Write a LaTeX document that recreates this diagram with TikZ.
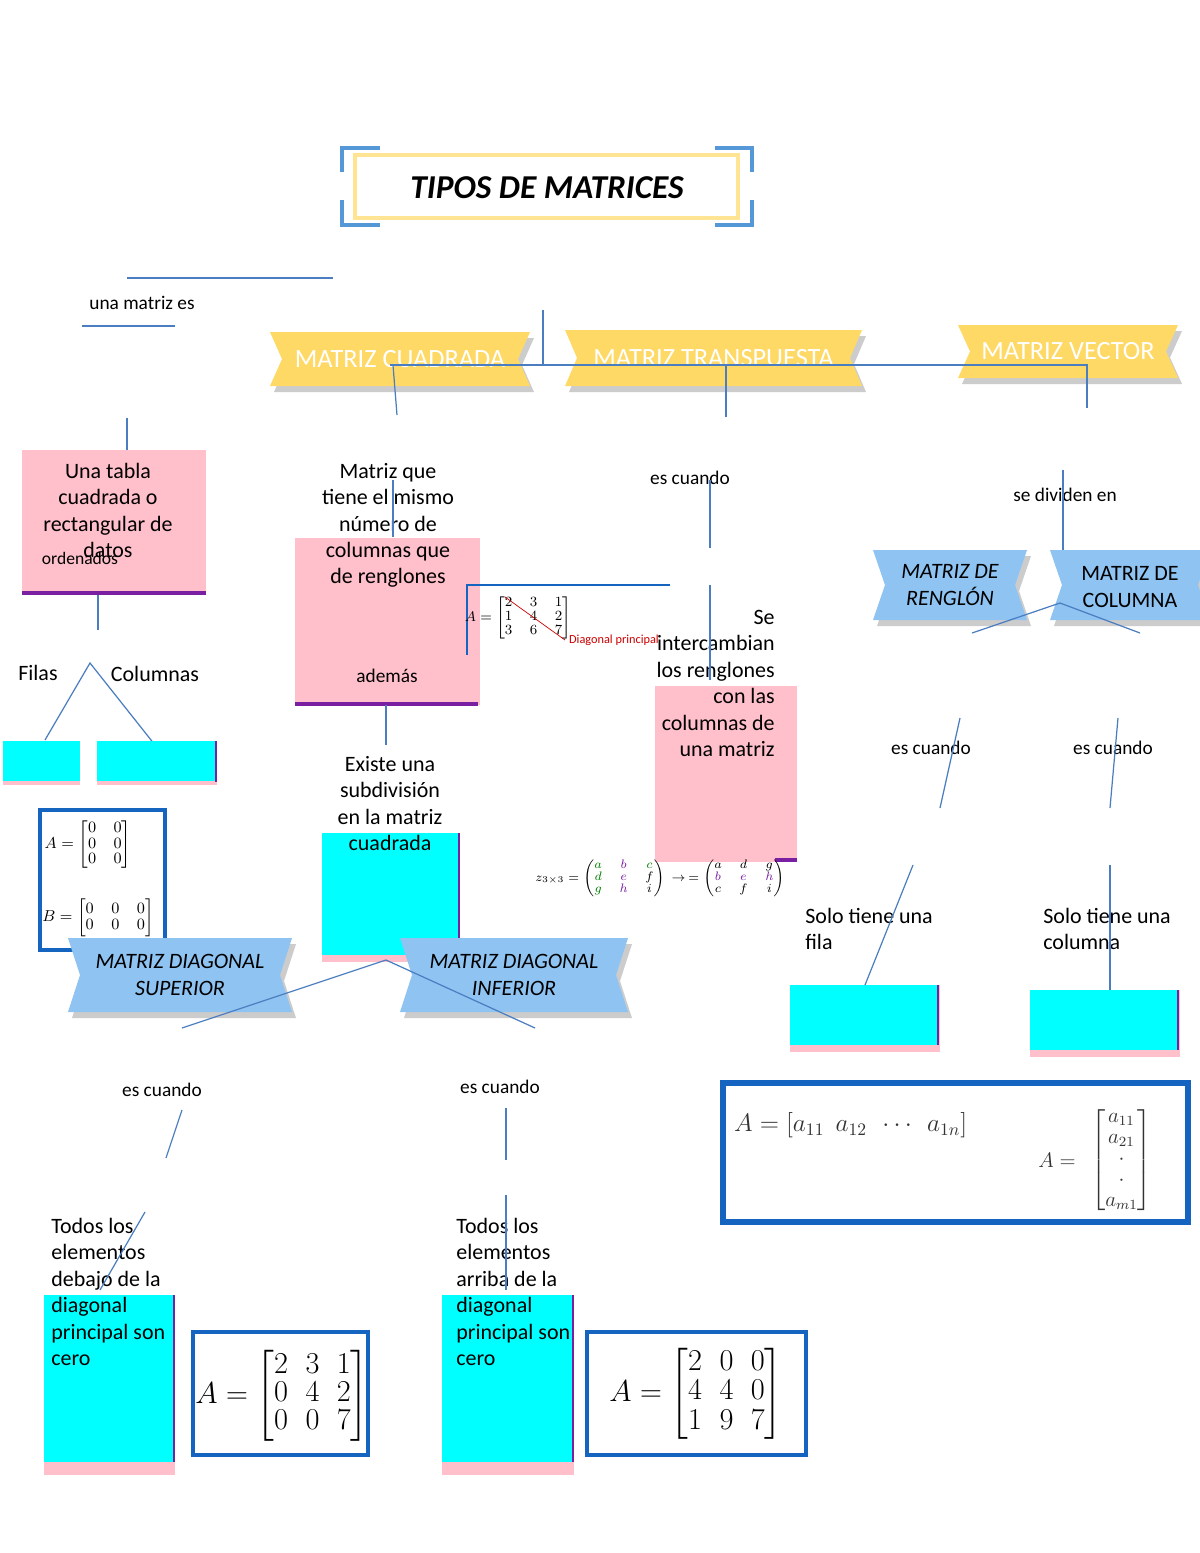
\documentclass[tikz,border=0pt]{standalone}
\usepackage{amsmath}
\usepackage{fontspec}
\setmainfont{Carlito}
\usetikzlibrary{calc}
\definecolor{ln}{HTML}{4A7EC0}
\definecolor{pk}{HTML}{FFC0CB}
\definecolor{cy}{HTML}{00FFFF}
\definecolor{pu}{HTML}{7B1FA2}
\definecolor{yl}{HTML}{FFD966}
\definecolor{lb}{HTML}{8EC3F2}
\definecolor{bb}{HTML}{1565C0}
\tikzset{
 con/.style={ln,line width=0.7pt},
 txt/.style={font=\fontsize{12.5}{15}\selectfont,align=center,inner sep=0pt},
 sm/.style={font=\fontsize{11}{13}\selectfont,inner sep=0pt},
 mbox/.style={draw=bb,line width=2.5pt,fill=white},
}
\newcommand{\ribbon}[6]{% x1 y1 x2 y2 fill name
 \fill[gray!40] ($(#1,#2)+(4,6)$) -- ($(#3,#2)+(4,6)$) -- ($(#3-12,#2/2+#4/2)+(4,6)$) -- ($(#3,#4)+(4,6)$) -- ($(#1,#4)+(4,6)$) -- ($(#1+12,#2/2+#4/2)+(4,6)$) -- cycle;
 \fill[#5] (#1,#2) -- (#3,#2) -- (#3-12,#2/2+#4/2) -- (#3,#4) -- (#1,#4) -- (#1+12,#2/2+#4/2) -- cycle;
 \coordinate (#6) at (#1/2+#3/2,#2/2+#4/2);
}
\begin{document}
\begin{tikzpicture}[x=0.02cm,y=-0.02cm]
\useasboundingbox (0,0) rectangle (1200,1553);
\fill[white] (0,0) rectangle (1200,1553);
% title
\draw[yl!70,line width=2.5pt] (355,155) rectangle (738,218);
\draw[cyan!60!blue!70,line width=2.5pt] (342,172)--(342,148)--(380,148);
\draw[cyan!60!blue!70,line width=2.5pt] (715,148)--(752,148)--(752,172);
\draw[cyan!60!blue!70,line width=2.5pt] (342,200)--(342,225)--(380,225);
\draw[cyan!60!blue!70,line width=2.5pt] (715,225)--(752,225)--(752,200);
\node[font=\fontsize{19}{24}\selectfont\bfseries\itshape] (title) at (547,188) {TIPOS DE MATRICES};
% top-left
\coordinate (t1) at (127,278); \coordinate (t2) at (333,278);
\draw[con] (t1)--(t2);
\node[sm] (um) at (142,303) {una matriz es};
\coordinate (u1) at (82,326); \coordinate (u2) at (175,326);
\draw[con] (u1)--(u2);
% yellow ribbons
\ribbon{270}{332}{530}{386}{yl}{rc}
\node[font=\fontsize{15}{18}\selectfont,white] (cuad) at (rc) {MATRIZ CUADRADA};
\ribbon{565}{330}{862}{386}{yl}{rt}
\node[font=\fontsize{15}{18}\selectfont,white] (trans) at (rt) {MATRIZ TRANSPUESTA};
\ribbon{958}{325}{1178}{378}{yl}{rv}
\node[font=\fontsize{15}{18}\selectfont,white] (vect) at (rv) {MATRIZ VECTOR};
\coordinate (h0) at (543,310); \coordinate (h1) at (543,365);
\coordinate (hl) at (390,365); \coordinate (hr) at (1087,365); \coordinate (hr2) at (1087,408);
\draw[con] (h0)--(h1); \draw[con] (hl)--(hr)--(hr2);
\coordinate (c1) at (397,415); \draw[con] (393,365)--(c1);
\coordinate (tr1) at (726,417); \draw[con] (726,365)--(tr1);
% left pink
\fill[pk] (22,450) rectangle (206,593);
\draw[pu,line width=2.5pt] (22,593)--(206,593);
\node[txt,anchor=north] (tabla) at (108,463) {Una tabla\\cuadrada o\\rectangular de\\datos};
\node[sm,font=\fontsize{10}{12}\selectfont] (ord) at (80,558) {ordenados};
\draw[con] (127,418)--(127,450);
\draw[con] (98,595)--(98,630);
\node[txt] (filas) at (38,673) {Filas};
\node[txt] (cols) at (155,674) {Columnas};
\coordinate (fc) at (90,663); \coordinate (fa) at (45,740); \coordinate (fb) at (155,745);
\draw[con] (fa)--(fc)--(fb);
\fill[pk] (3,741) rectangle (80,785); \fill[cy] (3,741) rectangle (80,781);
\fill[pk] (97,741) rectangle (217,785); \fill[cy] (97,741) rectangle (215,781);
\draw[pu,line width=1.5pt] (216,741)--(216,782);
\draw[mbox] (40,810) rectangle (165,950);
\node[font=\fontsize{9}{9}\selectfont] (ma) at (88,845) {$A=\begin{bmatrix}0&0\\0&0\\0&0\end{bmatrix}$};
\node[font=\fontsize{9}{9}\selectfont] (mb) at (98,918) {$B=\begin{bmatrix}0&0&0\\0&0&0\end{bmatrix}$};
% cuadrada
\fill[pk] (295,538) rectangle (480,705);
\draw[pu,line width=2.5pt] (295,704)--(478,704);
\node[txt,anchor=north] (mq) at (388,463) {Matriz que\\tiene el mismo\\número de\\columnas que\\de renglones};
\node[sm] (ad) at (387,676) {además};
\draw[con] (393,480)--(393,537);
\draw[bb,line width=1.5pt] (467,655)--(467,585)--(670,585);
\node[font=\fontsize{8}{8}\selectfont] (dp) at (518,618) {$A=\begin{bmatrix}2&3&1\\1&4&2\\3&6&7\end{bmatrix}$};
\draw[red!80!black] (505,597)--(565,640);
\node[font=\fontsize{7}{8}\selectfont,red!80!black] (dpl) at (614,640) {Diagonal principal};
\draw[con] (386,705)--(386,745);
\fill[pk] (322,833) rectangle (460,962); \fill[cy] (322,833) rectangle (458,955);
\draw[pu,line width=1.5pt] (459,833)--(459,955);
\node[txt,anchor=north] (ex) at (390,756) {Existe una\\subdivisión\\en la matriz\\cuadrada};
% blue ribbons
\ribbon{68}{938}{292}{1012}{lb}{rs}
\node[txt,font=\fontsize{12.5}{15}\selectfont\itshape] (ds) at (rs) {MATRIZ DIAGONAL\\SUPERIOR};
\ribbon{400}{938}{628}{1012}{lb}{ri}
\node[txt,font=\fontsize{12.5}{15}\selectfont\itshape] (di) at (ri) {MATRIZ DIAGONAL\\INFERIOR};
\coordinate (s0) at (182,1028); \coordinate (s1) at (386,960); \coordinate (s2) at (535,1028);
\draw[con] (s0)--(s1)--(s2);
\node[sm] (ec1) at (162,1090) {es cuando};
\node[sm] (ec2) at (500,1087) {es cuando};
\draw[con] (182,1110)--(166,1158);
\draw[con] (506,1108)--(506,1160);
% bottom boxes
\fill[pk] (44,1295) rectangle (175,1475); \fill[cy] (44,1295) rectangle (173,1462);
\draw[pu,line width=1.5pt] (174,1295)--(174,1462);
\node[txt,align=left,anchor=north west] (tl) at (51,1218) {Todos los\\elementos\\debajo de la\\diagonal\\principal son\\cero};
\draw[con] (145,1212)--(100,1290);
\draw[mbox] (193,1332) rectangle (368,1455);
\node[font=\fontsize{16}{16}\selectfont] (m1) at (282,1396) {$A=\begin{bmatrix}2&3&1\\0&4&2\\0&0&7\end{bmatrix}$};
\fill[pk] (442,1295) rectangle (574,1475); \fill[cy] (442,1295) rectangle (572,1462);
\draw[pu,line width=1.5pt] (573,1295)--(573,1462);
\node[txt,align=left,anchor=north west] (tr) at (456,1218) {Todos los\\elementos\\arriba de la\\diagonal\\principal son\\cero};
\draw[con] (506,1195)--(506,1290);
\draw[mbox] (587,1332) rectangle (806,1455);
\node[font=\fontsize{17}{17}\selectfont] (m2) at (696,1394) {$A=\begin{bmatrix}2&0&0\\4&4&0\\1&9&7\end{bmatrix}$};
% transpuesta
\node[sm] (ec3) at (690,478) {es cuando};
\draw[con] (710,480)--(710,548);
\fill[pk] (655,686) rectangle (797,862);
\draw[pu,line width=2.5pt] (775,860)--(797,860);
\node[txt,align=right,anchor=north east] (se) at (775,610) {Se\\intercambian\\los renglones\\con las\\columnas de\\una matriz};
\draw[con] (710,585)--(710,680);
\node[font=\fontsize{7}{7}\selectfont] (zf) at (660,878) {$z_{3\times3}=\begin{pmatrix}\color{green!50!black}a&\color{pu}b&\color{green!50!black}c\\\color{green!50!black}d&\color{pu}e&f\\\color{green!50!black}g&\color{pu}h&i\end{pmatrix}\ \rightarrow\ =\begin{pmatrix}a&d&g\\\color{pu}b&\color{pu}e&\color{pu}h\\c&f&i\end{pmatrix}$};
% vector
\node[sm] (sd) at (1065,495) {se dividen en};
\draw[con] (1063,470)--(1063,565);
\ribbon{873}{550}{1027}{620}{lb}{rr}
\node[txt,font=\fontsize{12.5}{15}\selectfont\itshape] (mr) at (rr) {MATRIZ DE\\RENGLÓN};
\ribbon{1050}{550}{1210}{620}{lb}{rcol}
\node[txt] (mcol) at (1130,587) {MATRIZ DE\\COLUMNA};
\coordinate (v0) at (972,633); \coordinate (v1) at (1060,603); \coordinate (v2) at (1140,633);
\draw[con] (v0)--(v1)--(v2);
\node[sm] (ec4) at (931,748) {es cuando};
\node[sm] (ec5) at (1113,748) {es cuando};
\draw[con] (960,718)--(940,808);
\draw[con] (1118,718)--(1110,808);
\node[txt,align=left,anchor=north west] (sf) at (805,908) {Solo tiene una\\fila};
\node[txt,align=left,anchor=north west] (sc) at (1043,908) {Solo tiene una\\columna};
\fill[pk] (790,985) rectangle (940,1052); \fill[cy] (790,985) rectangle (938,1045);
\draw[pu,line width=1.5pt] (938,985)--(938,1045);
\fill[pk] (1030,990) rectangle (1180,1057); \fill[cy] (1030,990) rectangle (1178,1050);
\draw[pu,line width=1.5pt] (1178,990)--(1178,1050);
\draw[con] (913,865)--(865,985);
\draw[con] (1110,865)--(1110,990);
\draw[bb,line width=3pt] (723,1083) rectangle (1188,1222);
\node[font=\fontsize{14}{14}\selectfont,gray!40!black,anchor=west] (av) at (728,1125) {$A=[a_{11}\ \ a_{12}\ \ \cdots\ \ a_{1n}]$};
\node[font=\fontsize{12}{12}\selectfont,gray!40!black,anchor=east] (aeq) at (1082,1160) {$A=$};
\node[font=\fontsize{12}{12}\selectfont,gray!40!black,anchor=west] (ac) at (1085,1160) {$\begin{bmatrix}a_{11}\\a_{21}\\\cdot\\\cdot\\a_{m1}\end{bmatrix}$};
\end{tikzpicture}
\end{document}
